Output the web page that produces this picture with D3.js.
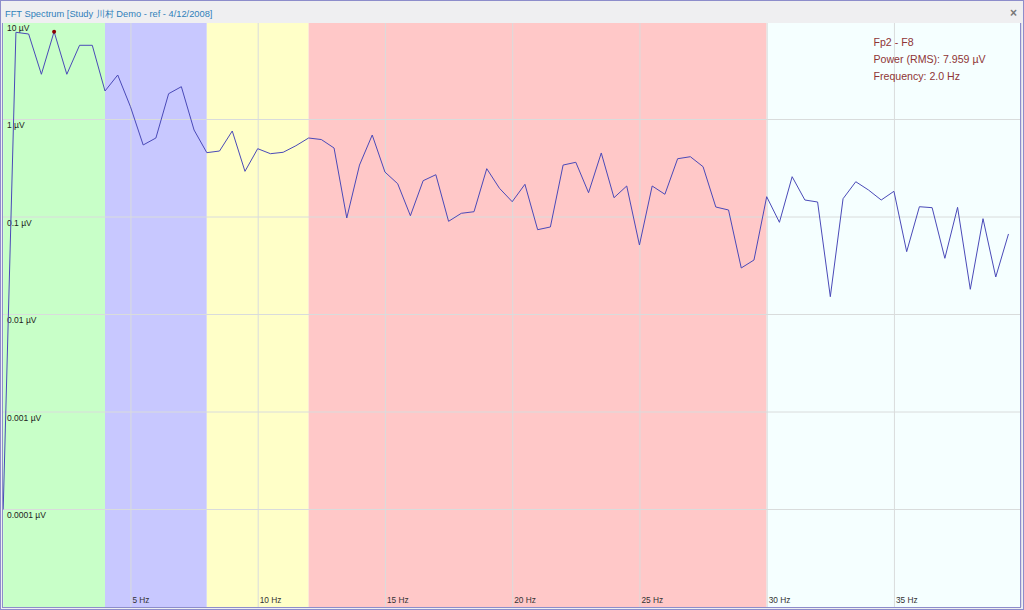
<!DOCTYPE html>
<html>
<head>
<meta charset="utf-8">
<script src="https://cdn.jsdelivr.net/npm/d3@7/dist/d3.min.js"></script>
<style>
html,body{margin:0;padding:0;background:#fff;overflow:hidden}
text{font-family:"Liberation Sans",Arial,sans-serif}
</style>
</head>
<body>
<svg id="c" width="1024" height="610" style="display:block"></svg>
<script>
const titleText = "FFT Spectrum [Study 川村 Demo - ref - 4/12/2008]";
const infoLines = ["Fp2 - F8", "Power (RMS): 7.959 µV", "Frequency: 2.0 Hz"];
const bandEdges = [0, 4, 8, 12, 30, 40];
const bandColors = ["#c8ffc8", "#c8c8ff", "#ffffc8", "#ffc8c8", "#f5ffff"];
const freqTicks = [5, 10, 15, 20, 25, 30, 35];
const powerTicks = [10, 1, 0.1, 0.01, 0.001, 0.0001];
const powerLabels = ["10 µV", "1 µV", "0.1 µV", "0.01 µV", "0.001 µV", "0.0001 µV"];
const freqStep = 0.5;
const peakIndex = 4;
const power = [
  0.0001, 7.84, 7.53, 2.91, 7.959, 2.91, 5.77, 5.77, 1.96, 2.86,
  1.353, 0.548, 0.646, 1.839, 2.17, 0.78, 0.457, 0.475, 0.762, 0.294,
  0.502, 0.446, 0.461, 0.538, 0.646, 0.623, 0.51, 0.0977, 0.341, 0.693,
  0.289, 0.2196, 0.1031, 0.2356, 0.2715, 0.0903, 0.1091, 0.1133, 0.313, 0.197,
  0.1435, 0.2165, 0.0741, 0.079, 0.341, 0.364, 0.1775, 0.4535, 0.1577, 0.208,
  0.0516, 0.208, 0.171, 0.396, 0.4153, 0.328, 0.1266, 0.118, 0.03, 0.0362,
  0.1615, 0.0882, 0.259, 0.1494, 0.1425, 0.01523, 0.154, 0.23, 0.1892, 0.1494,
  0.1835, 0.0441, 0.1275, 0.1246, 0.0377, 0.1257, 0.01814, 0.0961, 0.02425, 0.067
];

const svg = d3.select("#c");
const plot = {left: 3, right: 1020, top: 23, bottom: 607};

const x = d3.scaleLinear().domain([0, 40]).range([3.2, 1021.2]);
const y = d3.scaleLog().domain([0.0001, 10]).range([509.5, 22]);

// window frame
svg.append("rect").attr("width", 1024).attr("height", 610).attr("fill", "#ffffff");
svg.append("rect").attr("x", 0.5).attr("y", 0.5).attr("width", 1023).attr("height", 609)
  .attr("fill", "#efeff1").attr("stroke", "#8d8dcb");
svg.append("text").attr("x", 5).attr("y", 16.5).attr("font-size", 9.3)
  .attr("font-family", '"Liberation Sans","Noto Sans CJK JP",sans-serif')
  .attr("fill", "#2f7fba").text(titleText);
svg.append("text").attr("x", 1013.5).attr("y", 17).attr("text-anchor", "middle")
  .attr("font-size", 12).attr("font-weight", "bold").attr("fill", "#777").text("×");

svg.append("defs").append("clipPath").attr("id", "plotClip").append("rect")
  .attr("x", plot.left).attr("y", plot.top)
  .attr("width", plot.right - plot.left).attr("height", plot.bottom - plot.top);

const g = svg.append("g").attr("clip-path", "url(#plotClip)");
g.append("rect").attr("x", plot.left).attr("y", plot.top)
  .attr("width", plot.right - plot.left).attr("height", plot.bottom - plot.top).attr("fill", "#f5ffff");

g.selectAll("rect.band").data(bandColors).join("rect").attr("class", "band")
  .attr("x", (d, i) => x(bandEdges[i]))
  .attr("width", (d, i) => x(bandEdges[i + 1]) - x(bandEdges[i]))
  .attr("y", plot.top).attr("height", plot.bottom - plot.top)
  .attr("fill", d => d);

// axes
const gridCol = "#d9dcdc";
const xAxis = d3.axisBottom(x).tickValues(freqTicks)
  .tickSize(plot.top - plot.bottom).tickFormat(d => d + " Hz");
const xg = g.append("g").attr("transform", `translate(0,${plot.bottom})`).call(xAxis);
xg.select(".domain").remove();
xg.selectAll(".tick line").attr("stroke", gridCol).attr("stroke-width", 1);
xg.selectAll(".tick text").attr("text-anchor", "start").attr("x", 1.5).attr("y", -4)
  .attr("dy", 0).attr("font-size", 8.3).attr("font-family", '"Liberation Sans"').attr("fill", "#333");

const labelFor = new Map(powerTicks.map((t, i) => [t, powerLabels[i]]));
const yAxis = d3.axisLeft(y).tickValues(powerTicks).offset(0)
  .tickSize(plot.left - plot.right).tickFormat(d => labelFor.get(d));
const yg = g.append("g").attr("transform", `translate(${plot.left},0)`).call(yAxis);
yg.select(".domain").remove();
yg.selectAll(".tick line").attr("stroke", gridCol).attr("stroke-width", 1);
yg.selectAll(".tick text").attr("text-anchor", "start").attr("x", 4).attr("y", 8.5)
  .attr("dy", 0).attr("font-size", 8.5).attr("font-family", '"Liberation Sans"').attr("fill", "#222");

// spectrum line
const line = d3.line().x((d, i) => x(i * freqStep)).y(d => y(d));
g.append("path").datum(power).attr("d", line).attr("fill", "none")
  .attr("stroke", "#4a4ab8").attr("stroke-width", 1);

// selected peak
g.append("circle").attr("cx", x(peakIndex * freqStep)).attr("cy", y(power[peakIndex]))
  .attr("r", 2).attr("fill", "#8b0000");

// info text
svg.selectAll("text.info").data(infoLines).join("text").attr("class", "info")
  .attr("x", 873.5).attr("y", (d, i) => 46 + i * 17)
  .attr("font-size", 10.6).attr("fill", "#8f3535").text(d => d);

// plot side borders
svg.append("rect").attr("x", 2).attr("y", plot.top).attr("width", 1).attr("height", plot.bottom - plot.top).attr("fill", "#8d8dcb");
svg.append("rect").attr("x", 1020).attr("y", plot.top).attr("width", 1.2).attr("height", plot.bottom - plot.top).attr("fill", "#8d8dcb");
svg.append("rect").attr("x", 2).attr("y", plot.bottom).attr("width", 1019).attr("height", 1).attr("fill", "#8d8dcb");
</script>
</body>
</html>
